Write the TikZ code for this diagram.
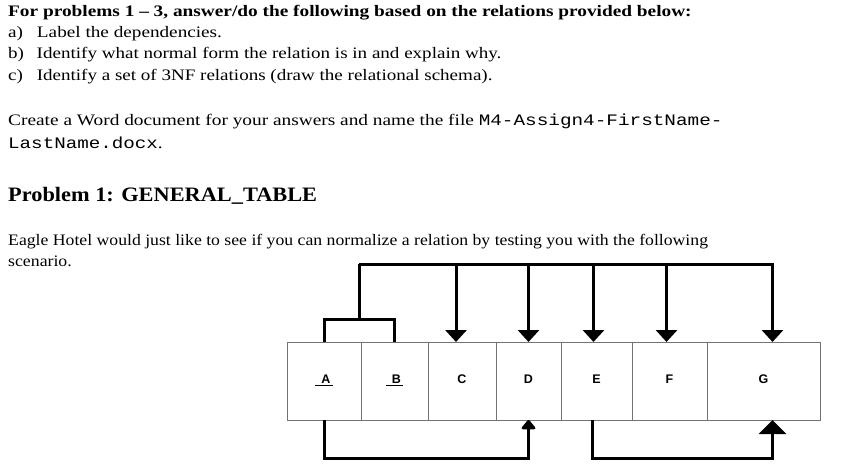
\documentclass[tikz,border=0pt]{standalone}
\usepackage{graphicx}
\usepackage{fontspec}
\setmainfont{Liberation Serif}
\setsansfont{Liberation Sans}
\setmonofont{Liberation Mono}
\usetikzlibrary{arrows.meta,positioning,calc}

% horizontal stretch of a text line
\newcommand{\widen}[2]{\scalebox{#1}[1]{#2}}

\tikzset{
  txt/.style={anchor=base west, inner sep=0pt, font=\fontsize{16}{19}\selectfont},
  cell/.style={draw=black!55, line width=0.8pt, minimum height=78pt, inner sep=0pt, outer sep=0pt,
    font=\sffamily\bfseries\fontsize{12.5}{14}\selectfont},
  bar/.style={line width=3pt},
  dep/.style={bar, -{Triangle[width=21pt,length=12pt]}},
}

\begin{document}
\begin{tikzpicture}[x=1pt, y=1pt]
\useasboundingbox (0,0) rectangle (848,472);
\fill[white] (0,0) rectangle (848,472);

% Instructions
\node[txt, font=\bfseries\fontsize{16}{19}\selectfont] (head) at (8,455)
  {\widen{1.207}{For problems 1 -- 3, answer/do the following based on the relations provided below:}};
\node[txt] (qa) at (8,434) {\widen{1.2}{\makebox[24pt][l]{a)}Label the dependencies.}};
\node[txt] (qb) at (8,413) {\widen{1.19}{\makebox[24pt][l]{b)}Identify what normal form the relation is in and explain why.}};
\node[txt] (qc) at (8,391) {\widen{1.19}{\makebox[24pt][l]{c)}Identify a set of 3NF relations (draw the relational schema).}};
\node[txt] (word) at (8,346) {\widen{1.209}{Create a Word document for your answers and name the file \texttt{M4-Assign4-FirstName-}}};
\node[txt] (file) at (8,323) {\widen{1.2}{\texttt{LastName.docx}.}};

% Problem 1
\node[txt, font=\bfseries\fontsize{20.5}{24}\selectfont] (prob) at (8,271) {\widen{1.09}{Problem 1: GENERAL\_TABLE}};
\node[txt] (hotel) at (8,227) {\widen{1.106}{Eagle Hotel would just like to see if you can normalize a relation by testing you with the following}};
\node[txt] (scen) at (8,206) {\widen{1.11}{scenario.}};

% Relation
\node[cell, minimum width=74pt, anchor=south west] (A) at (287,52) {\raisebox{4pt}{\underline{\kern6pt A\kern2pt}}};
\node[cell, minimum width=67pt, right=0pt of A] (B) {\raisebox{4pt}{\underline{\kern6pt B\kern2pt}}};
\node[cell, minimum width=68pt, right=0pt of B] (C) {\raisebox{4pt}{C}};
\node[cell, minimum width=65pt, right=0pt of C] (D) {\raisebox{4pt}{D}};
\node[cell, minimum width=71pt, right=0pt of D] (E) {\raisebox{4pt}{E}};
\node[cell, minimum width=75pt, right=0pt of E] (F) {\raisebox{4pt}{F}};
\node[cell, minimum width=113pt, right=0pt of F] (G) {\raisebox{4pt}{G}};

% Dependencies from A,B
\coordinate (ab) at ($(A.north)!.5!(B.north)+(0,23)$);
\coordinate (hub) at ($(ab)+(0,55)$);
\draw[bar] (A.north) |- (ab) -| (B.north);
\draw[bar] (ab) -- (hub);
\foreach \n/\dx in {C/-6,D/0,E/-3,F/-3,G/9}
  \coordinate (t\n) at ([xshift=\dx pt]\n.north);
\draw[dep] (hub) -| (tG);
\foreach \n in {C,D,E,F}
  \draw[dep] (t\n |- hub) -- (t\n);

% Dependencies below
\coordinate (low) at (0,14);
\coordinate (bE) at ([xshift=-4pt]E.south);
\coordinate (bG) at ([xshift=9pt]G.south);
\draw[bar, -{Triangle[width=16pt,length=10pt,round]}] (A.south) -- (A.south |- low) -| (D.south);
\draw[bar, -{Triangle[width=27pt,length=14pt]}] (bE) -- (bE |- low) -| (bG);
\end{tikzpicture}
\end{document}
